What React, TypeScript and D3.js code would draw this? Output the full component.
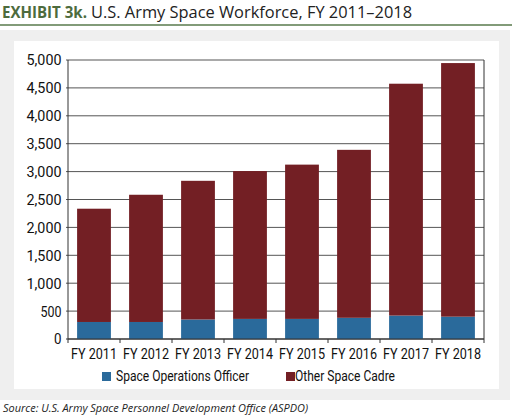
import React from "react";
import * as d3 from "d3";

const categories = ["FY 2011", "FY 2012", "FY 2013", "FY 2014", "FY 2015", "FY 2016", "FY 2017", "FY 2018"];
const officerValues = [305, 305, 350, 360, 360, 380, 420, 400];
const totalValues = [2335, 2585, 2835, 3010, 3125, 3390, 4575, 4945];
const otherValues = totalValues.map((t, i) => t - officerValues[i]);
const yTicks = [0, 500, 1000, 1500, 2000, 2500, 3000, 3500, 4000, 4500, 5000];
const seriesNames = ["Space Operations Officer", "Other Space Cadre"];
const seriesColors = ["#2a6a9b", "#731f24"];

const W = 512;
const H = 416;
const left = 68;
const right = 484;
const top = 60;
const bottom = 339;
const FONT = "Roboto, 'Open Sans', sans-serif";

export default function App() {
  const x = d3.scaleBand<string>().domain(categories).range([left, right]).paddingInner(0.35).paddingOuter(0.175);
  const y = d3.scaleLinear().domain([0, 5000]).range([bottom, top]);
  const rows = categories.map((c, i) => ({ c, officer: officerValues[i], other: otherValues[i] }));
  const stack = d3.stack<any>().keys(["officer", "other"])(rows);
  const fmt = d3.format(",");
  const step = (right - left) / categories.length;

  return (
    <svg width={W} height={H} style={{ position: "absolute", left: 0, top: 0 }}>
      <rect x={0} y={0} width={W} height={H} fill="#ffffff" />
      <text x={2} y={17.5} fontFamily="'Open Sans', sans-serif" fontSize={16} fontWeight="bold" fill="#4d6b3d"
        textLength={85} lengthAdjust="spacingAndGlyphs">EXHIBIT 3k.</text>
      <text x={91} y={17.5} fontFamily="'Open Sans', sans-serif" fontSize={16} fill="#222"
        textLength={321} lengthAdjust="spacingAndGlyphs">U.S. Army Space Workforce, FY 2011–2018</text>
      <line x1={0} x2={512} y1={25} y2={25} stroke="#587a4c" strokeWidth={1.5} />
      <rect x={0} y={30} width={510} height={370} fill="#efefef" />
      <rect x={14} y={41} width={485} height={348} fill="#ffffff" />
      {yTicks.map((t) => (
        <g key={t}>
          <line x1={left - 2} x2={right} y1={y(t)} y2={y(t)} stroke={t === 0 ? "#333" : "#555"} strokeWidth={1} />
          <text x={61.5} y={y(t)} dy="0.36em" textAnchor="end" fontFamily={FONT} fontSize={15} fill="#111"
            textLength={t >= 1000 ? 35 : t === 500 ? 21 : 7.5} lengthAdjust="spacingAndGlyphs">
            {fmt(t)}
          </text>
        </g>
      ))}
      {stack.map((s, si) =>
        s.map((d, i) => (
          <rect
            key={si + "-" + i}
            x={x(categories[i])}
            y={y(d[1])}
            width={x.bandwidth()}
            height={y(d[0]) - y(d[1])}
            fill={seriesColors[si]}
          />
        ))
      )}
      <line x1={left} x2={left} y1={top} y2={bottom} stroke="#333" />
      <line x1={right} x2={right} y1={top} y2={bottom} stroke="#333" />
      <line x1={left} x2={right} y1={bottom} y2={bottom} stroke="#333" />
      {d3.range(categories.length + 1).map((i) => (
        <line key={i} x1={left + i * step} x2={left + i * step} y1={bottom} y2={bottom + 4} stroke="#333" />
      ))}
      {categories.map((c) => (
        <text key={c} x={x(c)! + x.bandwidth() / 2 - 23} y={359} fontFamily={FONT} fontSize={15} fill="#111"
          textLength={46} lengthAdjust="spacingAndGlyphs">
          {c}
        </text>
      ))}
      <rect x={102} y={372} width={9} height={9} fill={seriesColors[0]} />
      <text x={116} y={381} fontFamily={FONT} fontSize={15} fill="#111" textLength={133} lengthAdjust="spacingAndGlyphs">{seriesNames[0]}</text>
      <rect x={286} y={372} width={9} height={9} fill={seriesColors[1]} />
      <text x={295} y={381} fontFamily={FONT} fontSize={15} fill="#111" textLength={100} lengthAdjust="spacingAndGlyphs">{seriesNames[1]}</text>
      <text x={3} y={412} fontFamily="'Open Sans', sans-serif" fontStyle="italic" fontSize={11} fill="#222"
        textLength={305} lengthAdjust="spacingAndGlyphs">
        Source: U.S. Army Space Personnel Development Office (ASPDO)
      </text>
    </svg>
  );
}
